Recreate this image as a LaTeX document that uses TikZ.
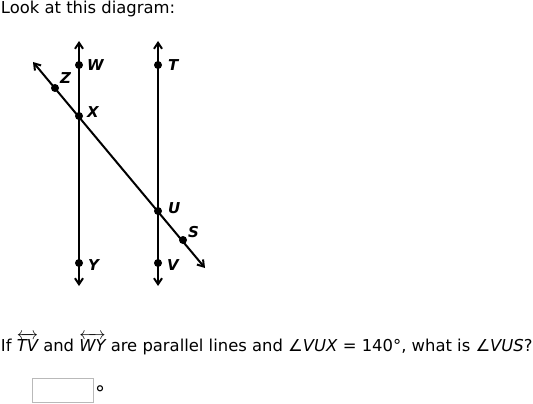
\documentclass[tikz,border=0pt]{standalone}
\usepackage{amsmath}
\usepackage{fontspec}
\setmainfont{DejaVu Sans}
\usetikzlibrary{arrows.meta}
\begin{document}
\begin{tikzpicture}[x=1pt,y=-1pt,line width=2pt,>={Straight Barb[length=6pt,width=8pt]},
  dot/.style={circle,fill,inner sep=0pt,minimum size=8pt},
  ptlabel/.style={font=\fontsize{15}{17}\selectfont\bfseries\itshape,inner sep=0pt},
  txt/.style={font=\fontsize{16.4}{18}\selectfont,anchor=base west,inner sep=0pt}]
\useasboundingbox (0,0) rectangle (533,404);
\node[txt] (look) at (0,14) {Look at this diagram:};
% points on the lines
\foreach \p/\x/\y in {W/79/65,X/79/116,Y/79/263,T/158/65,U/158/211,V/158/263,Z/55/88,S/183/240}
  \node[dot] (\p) at (\x,\y) {};
% line ends
\coordinate (wtop) at (79,41);
\coordinate (ybot) at (79,286);
\coordinate (ttop) at (158,41);
\coordinate (vbot) at (158,286);
\coordinate (zend) at (33,62);
\coordinate (send) at (205,268);
\draw[<->] (wtop) -- (ybot);
\draw[<->] (ttop) -- (vbot);
\draw[<->] (zend) -- (send);
% labels
\node[ptlabel,anchor=west] at ([xshift=7pt,yshift=0pt]W.center) {W};
\node[ptlabel,anchor=west] at ([xshift=9pt,yshift=0pt]T.center) {T};
\node[ptlabel,anchor=west] at ([xshift=8pt,yshift=-2pt]Y.center) {Y};
\node[ptlabel,anchor=west] at ([xshift=8pt,yshift=-2pt]V.center) {V};
\node[ptlabel,anchor=west] at ([xshift=7pt,yshift=4pt]X.center) {X};
\node[ptlabel,anchor=west] at ([xshift=9pt,yshift=3pt]U.center) {U};
\node[ptlabel,anchor=west] at ([xshift=4pt,yshift=8pt]S.center) {S};
\node[ptlabel,anchor=west] at ([xshift=4pt,yshift=10pt]Z.center) {Z};
% question
\node[txt] (question) at (0,351) {If $\overleftrightarrow{\textit{TV}}$ and $\overleftrightarrow{\textit{WY}}$ are parallel lines and ∠\textit{VUX} = 140°, what is ∠\textit{VUS}?};
\node[draw=gray!55,line width=0.8pt,minimum width=61pt,minimum height=24pt,inner sep=0pt] (answer) at (62.5,390) {};
\node[txt,font=\fontsize{20}{22}\selectfont] (deg) at (94,400) {°};
\end{tikzpicture}
\end{document}
